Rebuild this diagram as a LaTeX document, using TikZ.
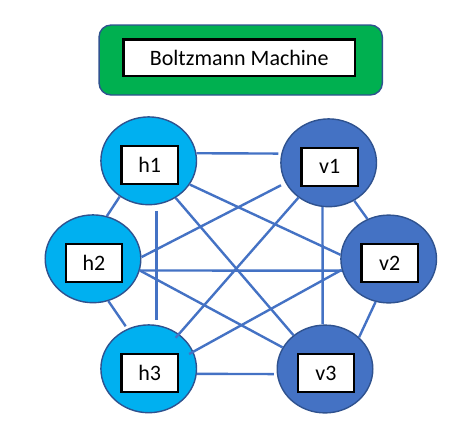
\documentclass[tikz,border=0pt]{standalone}
\usepackage{fontspec}
\setmainfont{Carlito}
\usepackage{tikz}
\usetikzlibrary{shapes.geometric}
\usetikzlibrary{calc}

\definecolor{hidden}{HTML}{00B0F0}
\definecolor{visible}{HTML}{4472C4}
\definecolor{rim}{HTML}{2F528F}
\definecolor{banner}{HTML}{00B050}

\begin{document}
\begin{tikzpicture}[x=1pt,y=-1pt,
unit/.style={ellipse,draw=rim,line width=1.4pt,minimum width=95.6pt,minimum height=87.8pt,inner sep=0pt},
tag/.style={draw=black,line width=2.2pt,fill=white,minimum width=56.3pt,minimum height=38.3pt,inner sep=0pt,font=\fontsize{22}{26}\selectfont},
link/.style={draw=visible,line width=2.4pt}]
\useasboundingbox (0,0) rectangle (476,440);

\node[rounded corners=12pt,draw=rim,line width=1.4pt,fill=banner,minimum width=283.3pt,minimum height=70pt] (frame) at (240.7,60) {};
\node[tag,minimum width=231.5pt,minimum height=36.8pt] (title) at (239.2,57.8) {Boltzmann Machine};

\node[unit,fill=hidden] (h1) at (148.7,160.8) {};
\node[unit,fill=hidden] (h2) at (93,258.8) {};
\node[unit,fill=hidden] (h3) at (148.7,368.8) {};
\node[unit,fill=visible] (v1) at (328.7,162.8) {};
\node[unit,fill=visible] (v2) at (388.7,259) {};
\node[unit,fill=visible] (v3) at (325,369) {};

\node[tag] (h1box) at ($(h1)+(1,4)$) {h1};
\node[tag] (h2box) at ($(h2)+(1,4)$) {h2};
\node[tag] (h3box) at ($(h3)+(1,4)$) {h3};
\node[tag] (v1box) at ($(v1)+(1,4)$) {v1};
\node[tag] (v2box) at ($(v2)+(1,4)$) {v2};
\node[tag] (v3box) at ($(v3)+(1,4)$) {v3};

% every unit is tied to every other one
\path[link,shorten >=3pt] (h1.9) edge (v1.169);
\path[link] (h1.231) edge (h2.72);
\path[link,shorten <=6pt,shorten >=5pt] (h1.-80) edge (h3.80);
\path[link] (h1.-54) edge (v3.133);
\path[link] (h1.-30) edge (v2.175);

\path[link] (v1.-56) edge (v2.118);
\path[link] (v1.-98) edge (v3.93);
\path[link,shorten <=5pt] (v1.205) edge (h2.2);
\path[link,shorten >=-5pt] (v1.229) edge (h3.49);

\path[link] (h2.-14) edge (v2.194);
\path[link] (h2.-14) edge (v3.153);
\path[link,shorten >=3pt] (h2.-70) edge (h3.118);

\path[link,shorten >=-5pt] (v2.193) edge (h3.21);
\path[link] (v2.253) edge (v3.43);

\path[link,shorten >=3pt] (h3.-6) edge (v3.186);
\end{tikzpicture}
\end{document}
